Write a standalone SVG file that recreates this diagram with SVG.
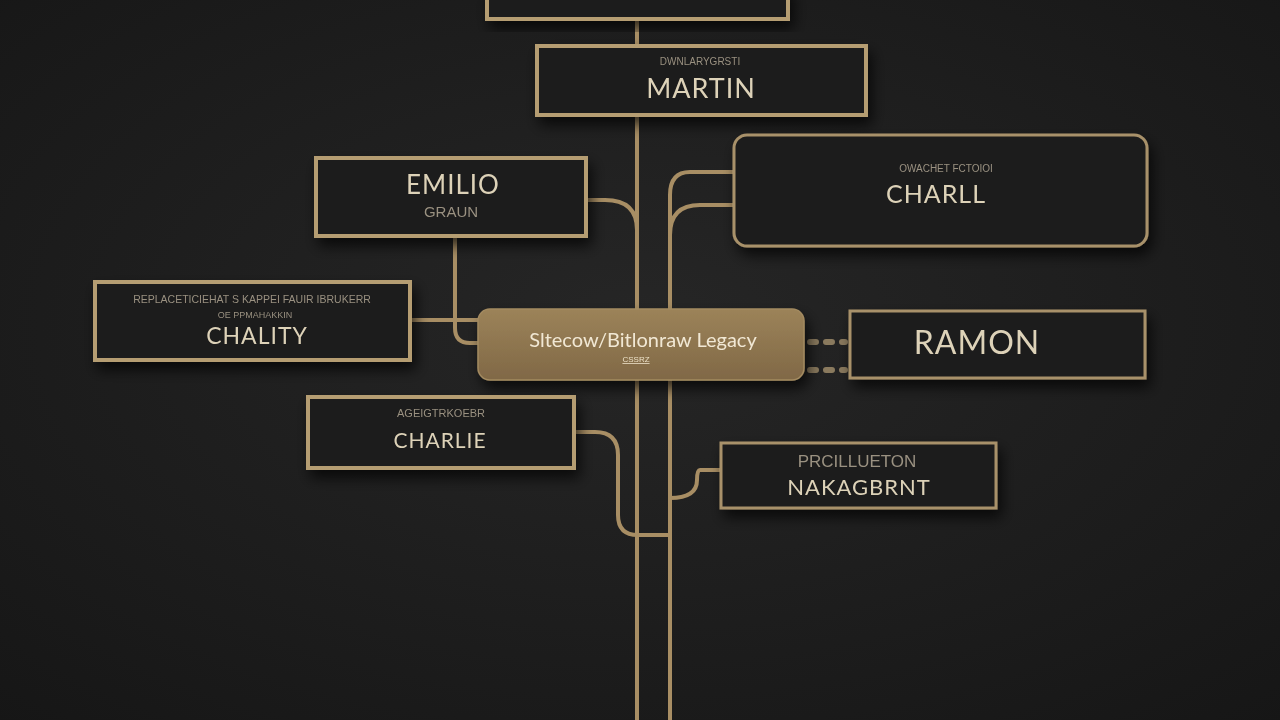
<svg xmlns="http://www.w3.org/2000/svg" width="1280" height="720" viewBox="0 0 1280 720">
<defs>
<radialGradient id="bg" cx="50%" cy="45%" r="75%">
<stop offset="0" stop-color="#262626"/>
<stop offset="1" stop-color="#161616"/>
</radialGradient>
<linearGradient id="goldfill" x1="0" y1="0" x2="0" y2="1">
<stop offset="0" stop-color="#9c8359"/>
<stop offset="1" stop-color="#806846"/>
</linearGradient>
<filter id="sh" x="-20%" y="-30%" width="140%" height="170%">
<feDropShadow dx="4" dy="8" stdDeviation="7" flood-color="#000" flood-opacity="0.7"/>
</filter>
<style>
.box{fill:#1b1b1b;stroke:#b59d72;stroke-width:4}
.thin{fill:#1d1d1d;stroke:#a8916a;stroke-width:3}
.ln{fill:none;stroke:#a88e64;stroke-width:4;stroke-linecap:round;stroke-linejoin:round}
.dash{fill:none;stroke:#8a7a5e;stroke-width:6;stroke-linecap:round;stroke-dasharray:6 10}
.main{font-family:Lato,"Liberation Sans",sans-serif;fill:#ddd2b8;text-anchor:middle;letter-spacing:1px}
.sub{font-family:"Liberation Sans",sans-serif;fill:#9a9181;text-anchor:middle}
</style>
</defs>
<rect width="1280" height="720" fill="url(#bg)"/>

<g id="connectors">
<path class="ln" d="M637 19 V45"/>
<path class="ln" d="M637 116 V720"/>
<path class="ln" d="M734 172 H690 Q670 172 670 195 V720"/>
<path class="ln" d="M734 205 H700 Q670 205 670 235"/>
<path class="ln" d="M587 200 H605 Q637 200 637 230"/>
<path class="ln" d="M455 237 V328 Q455 343 470 343 H480"/>
<path class="ln" d="M411 320 H480"/>
<path class="dash" d="M810 342 H845"/>
<path class="dash" d="M810 370 H845"/>
<path class="ln" d="M575 432 H595 Q618 432 618 455 V515 Q618 535 638 535 H668"/>
<path class="ln" d="M720 470 H700 Q697 470 697 480 Q697 498 670 498"/>
</g>

<g id="top" filter="url(#sh)">
<rect class="box" x="487" y="-12" width="301" height="31"/>
</g>

<g id="martin" filter="url(#sh)">
<rect class="box" x="537" y="46" width="329" height="69"/>
<text class="sub" x="700" y="65" font-size="10">DWNLARYGRSTI</text>
<text class="main" x="701" y="98" font-size="27">MARTIN</text>
</g>

<g id="emilio" filter="url(#sh)">
<rect class="box" x="316" y="158" width="270" height="78"/>
<text class="main" x="453" y="194" font-size="26">EMILIO</text>
<text class="sub" x="451" y="217" font-size="15" fill="#c4b99f">GRAUN</text>
</g>

<g id="charll" filter="url(#sh)">
<rect class="thin" x="734" y="135" width="413" height="111" rx="13"/>
<text class="sub" x="946" y="172" font-size="10">OWACHET FCTOIOI</text>
<text class="main" x="936" y="203" font-size="25">CHARLL</text>
</g>

<g id="chality" filter="url(#sh)">
<rect class="box" x="95" y="282" width="315" height="78"/>
<text class="sub" x="252" y="303" font-size="10.5">REPLACETICIEHAT S KAPPEI FAUIR IBRUKERR</text>
<text class="sub" x="255" y="318" font-size="9">OE PPMAHAKKIN</text>
<text class="main" x="257" y="344" font-size="23">CHALITY</text>
</g>

<g id="center" filter="url(#sh)">
<rect x="478" y="309" width="326" height="71" rx="12" fill="url(#goldfill)" stroke="#a38a60" stroke-width="1.5"/>
<text x="643" y="347" font-family="Lato,'Liberation Sans',sans-serif" font-size="20" fill="#f1e8d4" text-anchor="middle">Sltecow/Bitlonraw Legacy</text>
<text x="636" y="362" font-family="'Liberation Sans',sans-serif" font-size="8" fill="#ede2c8" text-anchor="middle" text-decoration="underline">CSSRZ</text>
</g>

<g id="ramon" filter="url(#sh)">
<rect class="thin" x="850" y="311" width="295" height="67"/>
<text class="main" x="977" y="354" font-size="32" fill="#eee4cc">RAMON</text>
</g>

<g id="charlie" filter="url(#sh)">
<rect class="box" x="308" y="397" width="266" height="71"/>
<text class="sub" x="441" y="417" font-size="11">AGEIGTRKOEBR</text>
<text class="main" x="440" y="448" font-size="21">CHARLIE</text>
</g>

<g id="management" filter="url(#sh)">
<rect class="thin" x="721" y="443" width="275" height="65"/>
<text class="sub" x="857" y="467" font-size="17" fill="#b8ae98">PRCILLUETON</text>
<text class="main" x="859" y="495" font-size="22" letter-spacing="2">NAKAGBRNT</text>
</g>
</svg>
